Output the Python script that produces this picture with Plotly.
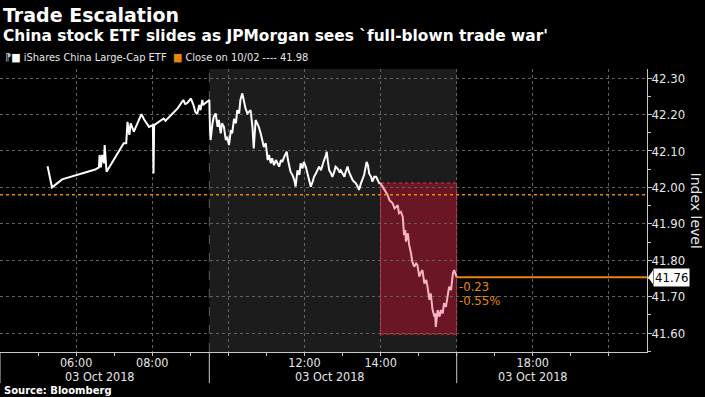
import plotly.graph_objects as go

DATE = "2018-10-03"

# ---- series: iShares China Large-Cap ETF, 03 Oct 2018 (local time) ----
times = [
    "05:15", "05:22", "05:38", "06:30", "06:36", "06:37", "06:39", "06:41", "06:44", "06:45",
    "06:48", "07:15", "07:19", "07:21", "07:24", "07:26", "07:31", "07:36", "07:43", "07:47",
    "07:51", "07:55", "08:01", "08:02", "08:03", "08:08", "08:18", "08:21", "08:29", "08:40",
    "08:49", "08:52", "08:55", "09:01", "09:05", "09:08", "09:11", "09:14", "09:16", "09:19",
    "09:20",
    "09:30", "09:31", "09:32", "09:35", "09:37", "09:40", "09:43", "09:45", "09:48", "09:50",
    "09:53", "09:56", "09:58", "10:01", "10:04", "10:06", "10:09", "10:12", "10:14", "10:17",
    "10:19", "10:22", "10:25", "10:27", "10:30", "10:33", "10:35", "10:38", "10:40", "10:43",
    "10:46", "10:48", "10:51", "10:54", "10:56", "10:59", "11:02", "11:04", "11:07", "11:09",
    "11:12", "11:15", "11:17", "11:20", "11:23", "11:25", "11:28", "11:32", "11:34", "11:36",
    "11:38", "11:41", "11:44", "11:46", "11:49", "11:52", "11:54", "11:57", "11:59", "12:02",
    "12:05", "12:07", "12:10", "12:13", "12:15", "12:18", "12:20", "12:23", "12:26", "12:28",
    "12:31", "12:34", "12:35", "12:37", "12:39", "12:42", "12:44", "12:47", "12:49", "12:52",
    "12:55", "12:57", "13:00", "13:03", "13:05", "13:08", "13:10", "13:13", "13:16", "13:18",
    "13:21", "13:24", "13:26", "13:29", "13:32", "13:34", "13:38", "13:40", "13:42", "13:45",
    "13:47", "13:50", "13:53", "13:55", "13:58",
    "14:00", "14:03", "14:06", "14:08", "14:11", "14:14", "14:16", "14:19", "14:22", "14:24",
    "14:27", "14:29", "14:32", "14:35", "14:36", "14:37", "14:39", "14:40", "14:43", "14:44",
    "14:45", "14:48", "14:50", "14:53", "14:56", "14:58", "15:01", "15:04", "15:06", "15:09",
    "15:12", "15:14", "15:17", "15:19", "15:22", "15:25", "15:26", "15:27", "15:30", "15:33",
    "15:35", "15:38", "15:40", "15:43", "15:46", "15:48", "15:51", "15:54", "15:56", "15:58",
    "16:00",
]
prices = [
    42.058, 42.000, 42.022, 42.049, 42.055, 42.089, 42.055, 42.089, 42.066, 42.116,
    42.043, 42.121, 42.121, 42.180, 42.144, 42.176, 42.153, 42.174, 42.201, 42.187,
    42.176, 42.166, 42.171, 42.038, 42.171, 42.177, 42.189, 42.183, 42.198, 42.217,
    42.240, 42.229, 42.231, 42.244, 42.226, 42.207, 42.201, 42.226, 42.212, 42.240,
    42.226,
    42.240, 42.166, 42.130, 42.176, 42.194, 42.203, 42.166, 42.185, 42.148, 42.176,
    42.166, 42.130, 42.139, 42.116, 42.157, 42.148, 42.188, 42.176, 42.212, 42.203,
    42.240, 42.258, 42.231, 42.217, 42.203, 42.207, 42.212, 42.166, 42.107, 42.185,
    42.176, 42.166, 42.148, 42.130, 42.111, 42.121, 42.075, 42.089, 42.066, 42.080,
    42.061, 42.075, 42.066, 42.057, 42.075, 42.070, 42.084, 42.098, 42.075, 42.057,
    42.043, 42.034, 42.020, 42.002, 42.047, 42.034, 42.066, 42.052, 42.070, 42.057,
    42.038, 42.020, 42.002, 42.016, 42.029, 42.038, 42.047, 42.057, 42.047, 42.061,
    42.075, 42.089, 42.098, 42.070, 42.047, 42.038, 42.029, 42.043, 42.057, 42.052,
    42.043, 42.047, 42.038, 42.029, 42.043, 42.057, 42.043, 42.029, 42.020, 42.016,
    42.011, 42.002, 41.993, 42.011, 42.025, 42.034, 42.070, 42.061, 42.038, 42.029,
    42.016, 42.029, 42.029, 42.020, 42.011,
    42.011, 42.002, 41.993, 41.984, 41.979, 41.965, 41.960, 41.956, 41.942, 41.947,
    41.951, 41.929, 41.933, 41.919, 41.887, 41.869, 41.883, 41.851, 41.874, 41.851,
    41.842, 41.819, 41.796, 41.782, 41.791, 41.787, 41.755, 41.768, 41.773, 41.736,
    41.746, 41.727, 41.691, 41.709, 41.663, 41.645, 41.654, 41.617, 41.663, 41.645,
    41.663, 41.654, 41.682, 41.672, 41.700, 41.727, 41.718, 41.764, 41.773, 41.759,
    41.753,
]

prev_close = 41.98
prev_close_label = "Close on 10/02 ---- 41.98"
series_label = "iShares China Large-Cap ETF"
last_label = "41.76"
change_label = "-0.23"
pct_label = "-0.55%"

session_open, session_close = "09:30", "16:00"
hl_start, hl_end = "14:00", "16:00"
hl_low, hl_high = 41.597, 42.012

x_start, x_end = "04:00", "21:00"
x_tick_vals = ["06:00", "08:00", "10:00", "12:00", "14:00", "16:00", "18:00", "20:00"]
x_tick_text = ["06:00", "08:00", "", "12:00", "14:00", "", "18:00", ""]
x_minor_vals = ["05:00", "07:00", "09:00", "11:00", "13:00", "15:00", "17:00", "19:00"]
date_labels = ["03 Oct 2018", "03 Oct 2018", "03 Oct 2018"]
date_label_pos = ["06:37", "12:40", "18:00"]
y_tick_vals = [41.60, 41.70, 41.80, 41.90, 42.00, 42.10, 42.20, 42.30]
y_range = [41.548, 42.325]


def ts(hm):
    return f"{DATE} {hm}"


xs = [ts(t) for t in times]
split = times.index(hl_start)

COND = "DejaVu Sans Condensed, Liberation Sans Narrow, DejaVu Sans, sans-serif"
REG = "DejaVu Sans, Verdana, sans-serif"
BOLD = "DejaVu Sans, Verdana, sans-serif"
GRID = "#626262"
AXIS = "#c8c8c8"
TXT = "#e6e6e6"
ORANGE = "#e8870c"

fig = go.Figure()
fig.add_trace(go.Scatter(x=xs[:split + 1], y=prices[:split + 1], mode="lines",
                         line=dict(color="#ffffff", width=2), showlegend=False,
                         hoverinfo="skip"))
fig.add_trace(go.Scatter(x=xs[split:], y=prices[split:], mode="lines",
                         line=dict(color="#f7b3c2", width=2), showlegend=False,
                         hoverinfo="skip"))

shapes = [
    # trading session shading
    dict(type="rect", xref="x", yref="paper", x0=ts(session_open), x1=ts(session_close),
         y0=0, y1=1, fillcolor="#1c1c1c", line=dict(width=0), layer="below"),
    dict(type="line", xref="x", yref="paper", x0=ts(session_open), x1=ts(session_open),
         y0=0, y1=1, line=dict(color="#5a5a5a", width=1, dash="dash"), layer="below"),
    # highlighted window
    dict(type="rect", xref="x", yref="y", x0=ts(hl_start), x1=ts(hl_end),
         y0=hl_low, y1=hl_high, fillcolor="#6b1624",
         line=dict(color="#ff2a48", width=1, dash="dot"), layer="below"),
    # previous close
    dict(type="line", xref="x", yref="y", x0=ts(x_start), x1=ts(x_end),
         y0=prev_close, y1=prev_close, line=dict(color=ORANGE, width=1.5, dash="dot")),
    # last price line
    dict(type="line", xref="x", yref="y", x0=ts(hl_end), x1=ts(x_end),
         y0=prices[-1], y1=prices[-1], line=dict(color=ORANGE, width=2)),
]
# separators below the axis
for hm in [x_start, session_open, session_close]:
    shapes.append(dict(type="line", xref="x", yref="paper", x0=ts(hm), x1=ts(hm),
                       y0=0, y1=-0.11, line=dict(color=AXIS, width=1)))
# pointer of last value label
px = 1 / 647
dy = 7 / 364.3
shapes.append(dict(type="path", xref="paper", yref="y",
                   path=f"M {1 + 1 * px},{prices[-1]} L {1 + 6 * px},{prices[-1] + dy} "
                        f"L {1 + 6 * px},{prices[-1] - dy} Z",
                   fillcolor="#ffffff", line=dict(width=0)))

annotations = []
annotations.append(dict(text="<b>Trade Escalation</b>", xref="paper", yref="paper",
                        x=0, y=1 + (69 - 15) / 283, xanchor="left", yanchor="middle",
                        xshift=1, showarrow=False, font=dict(family=BOLD, size=19, color="#ffffff")))
annotations.append(dict(text="<b>China stock ETF slides as JPMorgan sees `full-blown trade war'</b>",
                        xref="paper", yref="paper", x=0, y=1 + (69 - 36) / 283,
                        xanchor="left", yanchor="middle", xshift=1, showarrow=False,
                        font=dict(family=BOLD, size=15.4, color="#ffffff")))
annotations.append(dict(text=(f"<span style='color:#bbbbbb'>⁋</span><span style='color:#ffffff'>■</span> {series_label}"
                              f"  <span style='color:{ORANGE}'>■</span> {prev_close_label}"),
                        xref="paper", yref="paper", x=0, y=1 + (69 - 58) / 283,
                        xanchor="left", yanchor="middle", xshift=3, showarrow=False,
                        font=dict(family=COND, size=11, color=TXT)))
for lbl, pos in zip(date_labels, date_label_pos):
    annotations.append(dict(text=lbl, xref="x", yref="paper", x=ts(pos), y=-(376 - 352) / 283,
                            xanchor="center", yanchor="middle", showarrow=False,
                            font=dict(family=COND, size=12.5, color=TXT)))
annotations.append(dict(text="<b>Source: Bloomberg</b>", xref="paper", yref="paper",
                        x=0, y=-(390 - 352) / 283, xanchor="left", yanchor="middle", xshift=2,
                        showarrow=False, font=dict(family=BOLD, size=10, color="#ffffff")))
annotations.append(dict(text="Index level", xref="paper", yref="paper", x=1, y=0.5,
                        xanchor="center", yanchor="middle", xshift=49, textangle=90,
                        showarrow=False, font=dict(family=REG, size=14, color=TXT)))
annotations.append(dict(text=last_label, xref="paper", yref="y", x=1 + 6 * px, y=prices[-1],
                        xanchor="left", yanchor="middle", showarrow=False, bgcolor="#ffffff",
                        borderpad=1, font=dict(family=COND, size=13, color="#000000")))
annotations.append(dict(text=change_label, xref="x", yref="y", x=ts(hl_end), y=prices[-1],
                        xanchor="left", yanchor="middle", xshift=0, yshift=-9, showarrow=False,
                        font=dict(family=COND, size=13, color=ORANGE)))
annotations.append(dict(text=pct_label, xref="x", yref="y", x=ts(hl_end), y=prices[-1],
                        xanchor="left", yanchor="middle", xshift=0, yshift=-23, showarrow=False,
                        font=dict(family=COND, size=13, color=ORANGE)))

fig.update_layout(
    width=705, height=397,
    margin=dict(l=0, r=58, t=69, b=45, autoexpand=False),
    paper_bgcolor="#000000", plot_bgcolor="#000000",
    showlegend=False,
    shapes=shapes, annotations=annotations,
    xaxis=dict(
        type="date", range=[ts(x_start), ts(x_end)],
        tickmode="array", tickvals=[ts(t) for t in x_tick_vals], ticktext=x_tick_text,
        showgrid=True, gridcolor=GRID, griddash="dot", gridwidth=1,
        ticks="outside", ticklen=3, tickcolor=AXIS, ticklabelstandoff=-4,
        minor=dict(tickvals=[ts(t) for t in x_minor_vals], ticks="outside", ticklen=3,
                   tickcolor=AXIS, showgrid=False),
        showline=True, linecolor=AXIS, linewidth=1,
        tickfont=dict(family=COND, size=12.5, color=TXT),
        zeroline=False, fixedrange=True, automargin=False,
    ),
    yaxis=dict(
        side="right", range=y_range,
        tickmode="array", tickvals=y_tick_vals, ticktext=[f"{v:.2f}" for v in y_tick_vals],
        showgrid=True, gridcolor=GRID, griddash="dot", gridwidth=1,
        ticks="outside", ticklen=4, tickcolor=AXIS, ticklabelstandoff=-3,
        minor=dict(dtick=0.05, ticks="outside", ticklen=3, tickcolor=AXIS, showgrid=False),
        showline=True, linecolor=AXIS, linewidth=1,
        tickfont=dict(family=COND, size=13, color=TXT),
        zeroline=False, fixedrange=True, automargin=False,
    ),
)

fig.write_html("out.html", config={"displayModeBar": False},
               post_script="document.body.style.margin='0';document.body.style.padding='0';")
